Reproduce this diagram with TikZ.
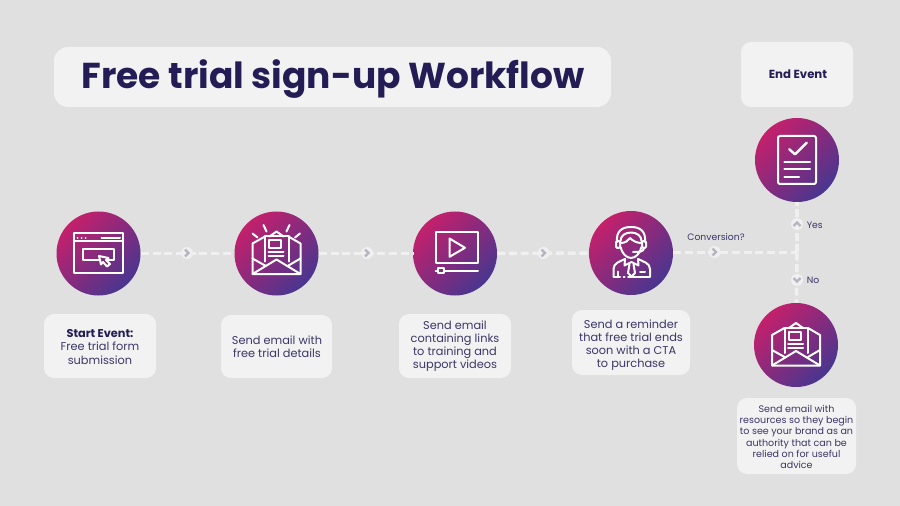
\documentclass[tikz,border=0pt]{standalone}
\usepackage{fontspec}
\setmainfont{Poppins}
\definecolor{bgc}{HTML}{E0E0E0}
\definecolor{boxc}{HTML}{F2F2F2}
\definecolor{titlec}{HTML}{231C55}
\definecolor{bodyc}{HTML}{3B3668}
\definecolor{pinkc}{HTML}{C4206C}
\definecolor{bluec}{HTML}{48368F}
\definecolor{dashc}{HTML}{F0F0F0}
\definecolor{chevc}{HTML}{B4B4C2}
\tikzset{
  px/.style={x=0.75pt,y=-0.75pt},
  grad/.style={circle,minimum size=63pt,inner sep=0pt,draw=none,left color=pinkc,right color=bluec,shading angle=45},
  card/.style={fill=boxc,draw=none,rounded corners=7.5pt},
  body/.style={text=bodyc,align=center,font=\fontsize{8.5}{9.9}\selectfont,inner sep=0pt},
  small/.style={text=bodyc,align=center,font=\fontsize{7.15}{8.5}\selectfont,inner sep=0pt},
  flow/.style={draw=dashc,line width=2.6pt,dash pattern=on 6pt off 2.8pt},
  chevdot/.style={circle,fill=dashc,minimum size=9pt,inner sep=0pt},
  chevline/.style={draw=chevc,line width=1.8pt},
  icon/.style={draw=white,line width=1.5pt,line join=round,line cap=round},
  envelope/.pic={
    \draw[icon] (-24,-10)--(-11.5,-17) (24,-10)--(12,-17) (-24,-10)--(-24,20.5)--(24,20.5)--(24,-10);
    \draw[icon] (-7,-17)--(0,-22)--(7,-17);
    \draw[icon] (-11.5,8)--(-11.5,-17)--(12,-17)--(12,8);
    \draw[icon] (-24,20.5)--(0,6)--(24,20.5);
    \draw[icon] (-24,5)--(-11.5,12) (24,5)--(12,12);
    \draw[icon] (-7.5,-13) rectangle (4.5,-5);
    \draw[icon] (-8,-1)--(7,-1) (-8,3)--(7,3);
  }
}
\begin{document}
\begin{tikzpicture}[px]
\useasboundingbox[fill=bgc] (0,0) rectangle (900,506);
% cards
\fill[card,rounded corners=10.5pt] (54,47) rectangle (611,107);
\fill[card] (741,42) rectangle (853,107);
\fill[card] (44,314) rectangle (156,378);
\fill[card] (221,315) rectangle (332,378);
\fill[card] (399,314) rectangle (511,378);
\fill[card] (572,310) rectangle (690,375);
\fill[card] (737,398) rectangle (856,474);
% texts
\node[text=titlec,inner sep=0pt,font=\fontsize{27}{30}\selectfont\bfseries] (title) at (333,79.5) {Free trial sign-up Workflow};
\node[text=titlec,inner sep=0pt,font=\fontsize{8.8}{10}\selectfont\bfseries] (endt) at (798,74) {End Event};
\node[body] (t1) at (100,347) {{\bfseries\color{titlec}Start Event:}\\Free trial form\\submission};
\node[body] (t2) at (277,346.5) {Send email with\\free trial details};
\node[body] (t3) at (455,346) {Send email\\containing links\\to training and\\support videos};
\node[body] (t4) at (631,345) {Send a reminder\\that free trial ends\\soon with a CTA\\to purchase};
\node[small] (t5) at (796.5,437) {Send email with\\resources so they begin\\to see your brand as an\\authority that can be\\relied on for useful\\advice};
% circles
\node[grad] (c1) at (98.5,253.5) {};
\node[grad] (c2) at (276.5,253.5) {};
\node[grad] (c3) at (455,253.5) {};
\node[grad] (c4) at (631,253) {};
\node[grad] (c5) at (797,160) {};
\node[grad] (c6) at (796,345) {};
\coordinate (j) at (797,252.5);
% connectors
\draw[flow] (c1) -- (c2);
\draw[flow] (c2) -- (c3);
\draw[flow] (c3) -- (c4);
\draw[flow] (c4.east |- j) -- (j);
\draw[flow] (j) -- (c5);
\draw[flow] (j) -- (c6);
% chevrons
\node[chevdot] (h1) at (187,253) {};
\node[chevdot] (h2) at (367,253) {};
\node[chevdot] (h3) at (543.5,253) {};
\node[chevdot] (h4) at (714.5,252) {};
\node[chevdot] (h5) at (797,224) {};
\node[chevdot] (h6) at (797,280) {};
\foreach \n in {h1,h2,h3,h4}{\draw[chevline] ([shift={(-2,-3.5)}]\n.center) -- ([shift={(1.5,0)}]\n.center) -- ([shift={(-2,3.5)}]\n.center);}
\draw[chevline] ([shift={(-3.5,2)}]h5.center) -- ([shift={(0,-1.5)}]h5.center) -- ([shift={(3.5,2)}]h5.center);
\draw[chevline] ([shift={(-3.5,-2)}]h6.center) -- ([shift={(0,1.5)}]h6.center) -- ([shift={(3.5,-2)}]h6.center);
% labels
\node[text=bodyc,inner sep=0pt,font=\fontsize{6.95}{9}\selectfont] (lc) at (716,237) {Conversion?};
\node[text=bodyc,inner sep=0pt,anchor=west,font=\fontsize{6.95}{9}\selectfont] (ly) at (806.5,225) {Yes};
\node[text=bodyc,inner sep=0pt,anchor=west,font=\fontsize{6.95}{9}\selectfont] (ln) at (806.5,280.5) {No};
% icon 1: browser
\begin{scope}[shift={(c1.center)}]
\draw[icon] (-24.5,-20) rectangle (24,19.5);
\draw[icon] (-24.5,-12)--(24,-12);
\draw[icon] (-21,-15.7)--(-20.9,-15.7) (-17,-15.7)--(-16.9,-15.7) (-13,-15.7)--(-12.9,-15.7) (3,-15.7)--(21.5,-15.7);
\draw[icon] (0,6.5)--(-16,6.5)--(-16,-4)--(15.5,-4)--(15.5,6.5)--(9,6.5);
\draw[icon] (0.5,2.5)--(2.5,11)--(4.5,8.5)--(8.5,13)--(11.5,10.5)--(7.5,6.5)--(10,4.5)--cycle;
\end{scope}
% icon 2: envelope with rays
\pic[shift={(c2.center)}] {envelope};
\begin{scope}[shift={(c2.center)}]
\draw[icon] (-24,-20)--(-19,-16) (-13,-28.5)--(-10,-22) (13,-28.5)--(10,-22) (23.5,-20)--(18.5,-16);
\end{scope}
% icon 3: video
\begin{scope}[shift={(c3.center)}]
\draw[icon] (-19.5,-21.5) rectangle (23,9.5);
\draw[icon] (-5.5,-15)--(-5.5,3.3)--(10,-5.7)--cycle;
\draw[icon] (-11,17.3)--(23,17.3);
\draw[icon] (-17,17.3)--(-19.5,17.3);
\draw[icon] (-17,14.8) rectangle (-11,19.8);
\end{scope}
% icon 4: agent
\begin{scope}[shift={(c4.center)}]
% headband
\draw[icon] (-14,-11) .. controls (-15,-22) and (-9,-26) .. (0,-26) .. controls (9,-26) and (15,-22) .. (14,-11);
\draw[icon] (-10.5,-12) .. controls (-10.5,-17) and (-6,-20.5) .. (0,-20.5) .. controls (6,-20.5) and (10.5,-17) .. (10.5,-12);
\draw[icon,rounded corners=1pt] (-15,-12) rectangle (-11,-5);
\draw[icon,rounded corners=1pt] (11,-12) rectangle (15,-5);
% face and hair
\draw[icon] (-10.5,-6) .. controls (-9,0) and (-5,5) .. (0,5) .. controls (5,5) and (9,0) .. (10.5,-6);
\draw[icon] (-10.5,-10) .. controls (-6,-10) and (-3,-12) .. (-1,-15) .. controls (2,-12) and (6,-10) .. (10.5,-10);
% mic
\draw[icon] (13,-5) .. controls (13,-1) and (8,-1) .. (2,-1);
% body
\draw[icon] (-17.5,23.7)--(-17.5,16) .. controls (-17.5,10) and (-11,8.5) .. (-6,6);
\draw[icon] (19,23.7)--(19,16) .. controls (19,10) and (12,8.5) .. (7,6);
\draw[icon] (-17.5,23.7)--(-11,23.7) (-7.5,23.7)--(-6.5,23.7) (-3,23.7)--(3.5,23.7) (3.5,23.7)--(19,23.7);
\draw[icon] (-6,6)--(-6.5,12.5)--(0.5,9)--(7.5,12.5)--(7,6);
\draw[icon] (-1.5,11)--(-3,20)--(0.5,23.7)--(4,20)--(2.5,11);
\draw[icon] (9,18.7)--(14,18.7);
\draw[icon] (-13,18.5)--(-13,23.7);
\end{scope}
% icon 5: checklist
\begin{scope}[shift={(c5.center)}]
\draw[icon,rounded corners=1.5pt] (-19,-24) rectangle (19,24);
\draw[icon,line width=1.8pt] (-7.7,-10.7)--(-2,-5.7)--(9.7,-17.3);
\draw[icon] (-12.7,1.7)--(13,1.7) (-12.7,9.3)--(13,9.3) (-12.7,17.3)--(2,17.3);
\end{scope}
% icon 6: envelope
\pic[shift={(c6.center)}] {envelope};
\end{tikzpicture}
\end{document}
